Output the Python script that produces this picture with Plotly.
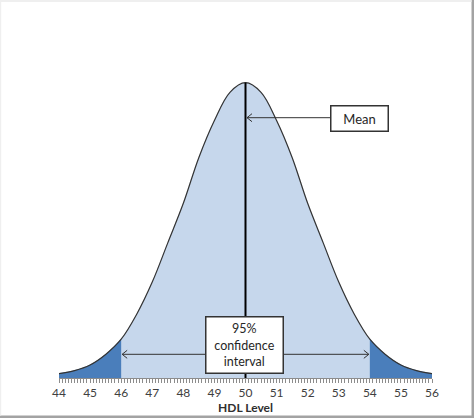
import plotly.graph_objects as go

# values (curve height, arbitrary density units)
hdl_level = [44, 44.5, 45, 45.5, 46, 46.5, 47, 47.5, 48, 48.5, 49, 49.5, 50,
             50.5, 51, 51.5, 52, 52.5, 53, 53.5, 54, 54.5, 55, 55.5, 56]
density = [0.0030, 0.0050, 0.0088, 0.0159, 0.0262, 0.0431, 0.0648, 0.0913,
           0.1180, 0.1490, 0.1740, 0.1930, 0.1995, 0.1930, 0.1740, 0.1490,
           0.1180, 0.0913, 0.0648, 0.0431, 0.0262, 0.0159, 0.0088, 0.0050,
           0.0030]
mean_hdl = 50
ci_low = 46
ci_high = 54
tick_vals = [44, 45, 46, 47, 48, 49, 50, 51, 52, 53, 54, 55, 56]
tick_labels = ["44", "45", "46", "47", "48", "49", "50", "51", "52", "53",
               "54", "55", "56"]

W, H = 474, 418
ML, MR, MT, MB = 59, 42, 10, 40
Y_TOP = 0.2486
LIGHT = "#c6d7ec"
DARK = "#4a7ebb"
INK = "#333333"


def px_x(X):
    return tick_vals[0] + (X - ML) / (W - ML - MR) * (tick_vals[-1] - tick_vals[0])


def px_y(Y):
    return (H - MB - Y) / (H - MT - MB) * Y_TOP


def paper_x(X):
    return (X - ML) / (W - ML - MR)


def paper_y(Y):
    return (H - MB - Y) / (H - MT - MB)


def chevron(x_tip, y_tip, direction):
    # open arrow head, arms in pixels
    return [
        dict(type="line", xref="x", yref="y", xsizemode="pixel", ysizemode="pixel",
             xanchor=x_tip, yanchor=y_tip, x0=0, y0=0, x1=direction * 5, y1=dy,
             line=dict(color=INK, width=1))
        for dy in (4, -4)
    ]


left = [(x, y) for x, y in zip(hdl_level, density) if x <= ci_low]
right = [(x, y) for x, y in zip(hdl_level, density) if x >= ci_high]

fig = go.Figure()

fig.add_trace(
    go.Scatter(
        x=hdl_level,
        y=density,
        mode="lines",
        line=dict(color=LIGHT, width=0.5, shape="spline"),
        fill="tozeroy",
        fillcolor=LIGHT,
        hoverinfo="skip",
    )
)

for part in (left, right):
    fig.add_trace(
        go.Scatter(
            x=[p[0] for p in part],
            y=[p[1] for p in part],
            mode="lines",
            line=dict(color=DARK, width=0.5, shape="spline"),
            fill="tozeroy",
            fillcolor=DARK,
            hoverinfo="skip",
        )
    )

fig.add_trace(
    go.Scatter(
        x=hdl_level,
        y=density,
        mode="lines",
        line=dict(color=INK, width=1.2, shape="spline"),
        hoverinfo="skip",
    )
)

peak = max(density)
mean_y = px_y(117.7)
ci_y = px_y(354.3)
one_px = (tick_vals[-1] - tick_vals[0]) / (W - ML - MR)

shapes = [
    dict(type="line", xref="x", yref="y", x0=mean_hdl, x1=mean_hdl, y0=0, y1=peak,
         line=dict(color="black", width=2)),
    dict(type="line", xref="x", yref="y", x0=px_x(330), x1=mean_hdl + 1.5 * one_px,
         y0=mean_y, y1=mean_y, line=dict(color=INK, width=1)),
    dict(type="line", xref="x", yref="y", x0=px_x(206), x1=ci_low + one_px,
         y0=ci_y, y1=ci_y, line=dict(color=INK, width=1)),
    dict(type="line", xref="x", yref="y", x0=px_x(284), x1=ci_high - one_px,
         y0=ci_y, y1=ci_y, line=dict(color=INK, width=1)),
]
shapes += chevron(mean_hdl + 1.5 * one_px, mean_y, 1)
shapes += chevron(ci_low + one_px, ci_y, 1)
shapes += chevron(ci_high - one_px, ci_y, -1)

# picture frame
shapes += [
    dict(type="rect", xref="paper", yref="paper", x0=paper_x(471.5), x1=paper_x(474),
         y0=paper_y(418), y1=paper_y(0), fillcolor="#a3a3a3", line_width=0),
    dict(type="rect", xref="paper", yref="paper", x0=paper_x(0), x1=paper_x(474),
         y0=paper_y(418), y1=paper_y(415.5), fillcolor="#a3a3a3", line_width=0),
    dict(type="rect", xref="paper", yref="paper", x0=paper_x(0), x1=paper_x(471.5),
         y0=paper_y(2), y1=paper_y(0), fillcolor="#efefef", line_width=0),
    dict(type="rect", xref="paper", yref="paper", x0=paper_x(0), x1=paper_x(1.2),
         y0=paper_y(415.5), y1=paper_y(0), fillcolor="#efefef", line_width=0),
]

annotations = [
    dict(x=px_x(359.2), y=px_y(118.2), xref="x", yref="y", text="Mean",
         showarrow=False, width=56, height=24, borderpad=0, borderwidth=1.5,
         bordercolor=INK, bgcolor="white",
         font=dict(family="Lato", size=13, color="#262626")),
    dict(x=px_x(244.9), y=px_y(345), xref="x", yref="y",
         text="95%<br>confidence<br>interval",
         showarrow=False, width=76, height=55, borderpad=0, borderwidth=1.5,
         bordercolor=INK, bgcolor="white",
         font=dict(family="Lato", size=12.5, color="#262626")),
]

fig.update_layout(
    width=W,
    height=H,
    margin=dict(l=ML, r=MR, t=MT, b=MB),
    paper_bgcolor="white",
    plot_bgcolor="white",
    showlegend=False,
    shapes=shapes,
    annotations=annotations,
    xaxis=dict(
        range=[tick_vals[0], tick_vals[-1]],
        automargin=False,
        showgrid=False,
        zeroline=False,
        showline=True,
        linecolor="#8c8c8c",
        linewidth=1,
        tickmode="array",
        tickvals=tick_vals,
        ticktext=tick_labels,
        ticks="outside",
        ticklen=4,
        tickcolor="#8c8c8c",
        tickfont=dict(family="Lato", size=12, color="#404040"),
        minor=dict(tickmode="linear", tick0=44, dtick=0.1, ticks="outside",
                   ticklen=4, tickcolor="#8c8c8c"),
        title=dict(text="<b>HDL Level</b>", standoff=3,
                   font=dict(family="Lato", size=12, color="#303030")),
        fixedrange=True,
    ),
    yaxis=dict(range=[0, Y_TOP], visible=False, fixedrange=True,
               automargin=False),
)

# the page's default body margin would shift the figure by 8px
fig.write_html(
    "out.html",
    config={"displayModeBar": False},
    post_script="document.body.style.margin='0';document.body.style.overflow='hidden';",
)
